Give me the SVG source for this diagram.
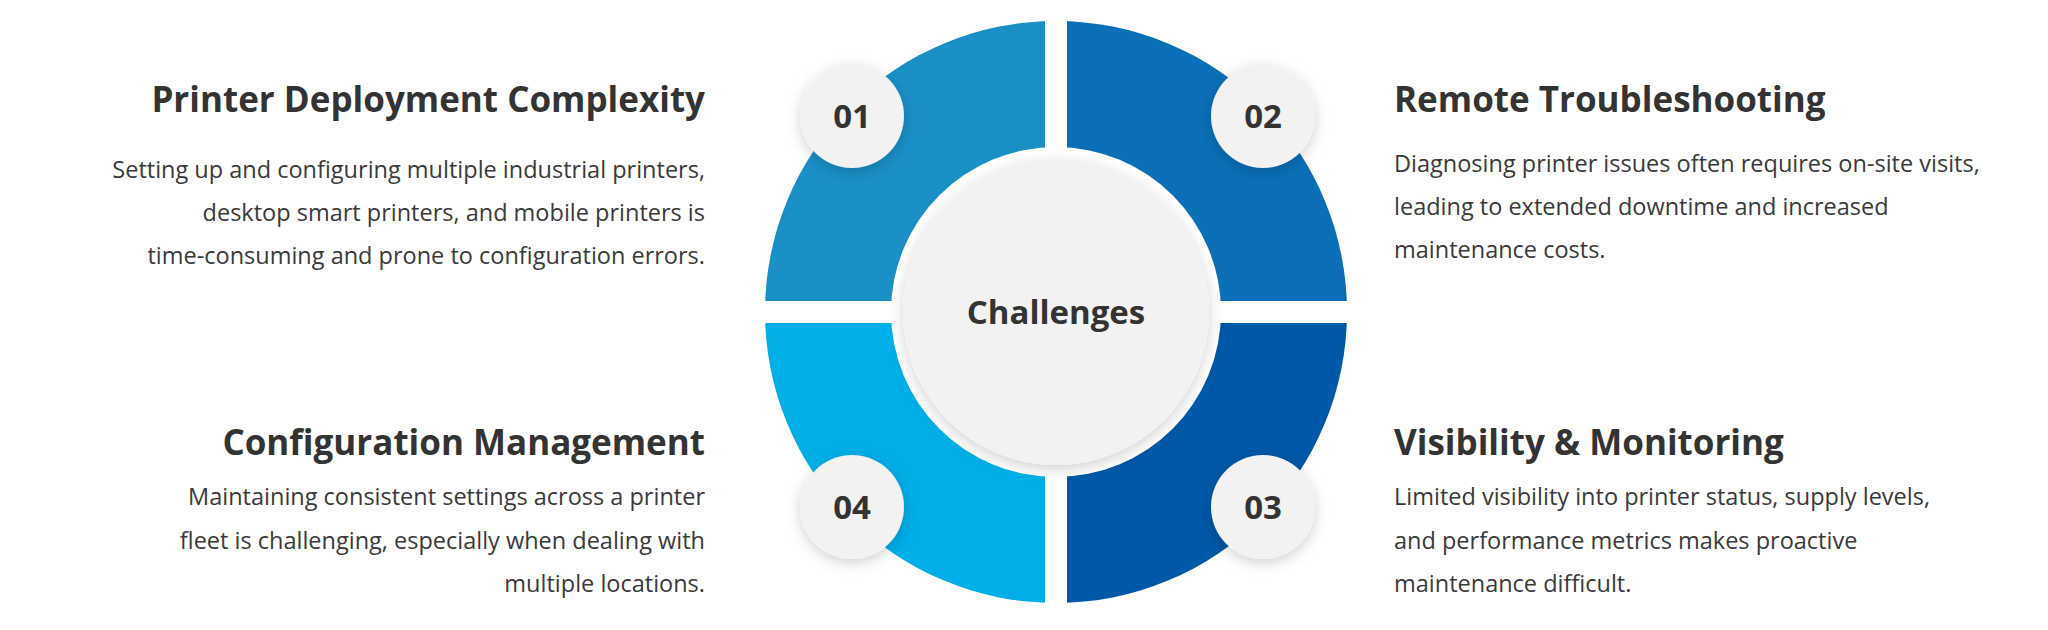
<svg xmlns="http://www.w3.org/2000/svg" width="2048" height="630" viewBox="0 0 2048 630">
<defs>
<style>
.t{font-family:"Open Sans","Noto Sans",sans-serif;font-weight:700;fill:#333;font-size:35px}
.b{font-family:"Open Sans","Noto Sans",sans-serif;fill:#3a3a3a;font-size:23.5px}
.n{font-family:"Open Sans","Noto Sans",sans-serif;font-weight:700;fill:#333;font-size:33px;text-anchor:middle}
.r{text-anchor:end}
.num{fill:#f2f2f2}
</style>
<filter id="sh" x="-50%" y="-50%" width="200%" height="200%"><feDropShadow dx="0" dy="4" stdDeviation="7" flood-color="#000" flood-opacity="0.18"/></filter>
</defs>
<g id="ring">
<path d="M1056 312 L765 312 A291 291 0 0 1 1056 21 Z" fill="#1a8fc6"/>
<path d="M1056 312 L1056 21 A291 291 0 0 1 1347 312 Z" fill="#0a6fb7"/>
<path d="M1056 312 L1347 312 A291 291 0 0 1 1056 603 Z" fill="#0058a8"/>
<path d="M1056 312 L1056 603 A291 291 0 0 1 765 312 Z" fill="#00aee8"/>
<rect x="1045" y="15" width="22" height="595" fill="#fff"/>
<rect x="720" y="301" width="670" height="22" fill="#fff"/>
<circle cx="1056" cy="312" r="165" fill="#fff"/>
</g>
<g id="center"><circle cx="1056" cy="312" r="153" fill="#f2f2f2" filter="url(#sh)"/><text class="n" x="1056" y="324" font-size="35">Challenges</text></g>
<g id="n1"><circle class="num" cx="852" cy="116" r="52" filter="url(#sh)"/><text class="n" x="852" y="128">01</text></g>
<g id="n2"><circle class="num" cx="1263" cy="116" r="52" filter="url(#sh)"/><text class="n" x="1263" y="128">02</text></g>
<g id="n3"><circle class="num" cx="1263" cy="507" r="52" filter="url(#sh)"/><text class="n" x="1263" y="519">03</text></g>
<g id="n4"><circle class="num" cx="852" cy="507" r="52" filter="url(#sh)"/><text class="n" x="852" y="519">04</text></g>
<g id="c1">
<text class="t r" x="705" y="112">Printer Deployment Complexity</text>
<text class="b r" x="705" y="178">Setting up and configuring multiple industrial printers,</text>
<text class="b r" x="705" y="221">desktop smart printers, and mobile printers is</text>
<text class="b r" x="705" y="264">time-consuming and prone to configuration errors.</text>
</g>
<g id="c2">
<text class="t" x="1394" y="112">Remote Troubleshooting</text>
<text class="b" x="1394" y="172">Diagnosing printer issues often requires on-site visits,</text>
<text class="b" x="1394" y="215">leading to extended downtime and increased</text>
<text class="b" x="1394" y="258">maintenance costs.</text>
</g>
<g id="c3">
<text class="t" x="1394" y="455">Visibility &amp; Monitoring</text>
<text class="b" x="1394" y="505">Limited visibility into printer status, supply levels,</text>
<text class="b" x="1394" y="549">and performance metrics makes proactive</text>
<text class="b" x="1394" y="592">maintenance difficult.</text>
</g>
<g id="c4">
<text class="t r" x="705" y="455">Configuration Management</text>
<text class="b r" x="705" y="505">Maintaining consistent settings across a printer</text>
<text class="b r" x="705" y="549">fleet is challenging, especially when dealing with</text>
<text class="b r" x="705" y="592">multiple locations.</text>
</g>
<g id="connectors"/>
</svg>
